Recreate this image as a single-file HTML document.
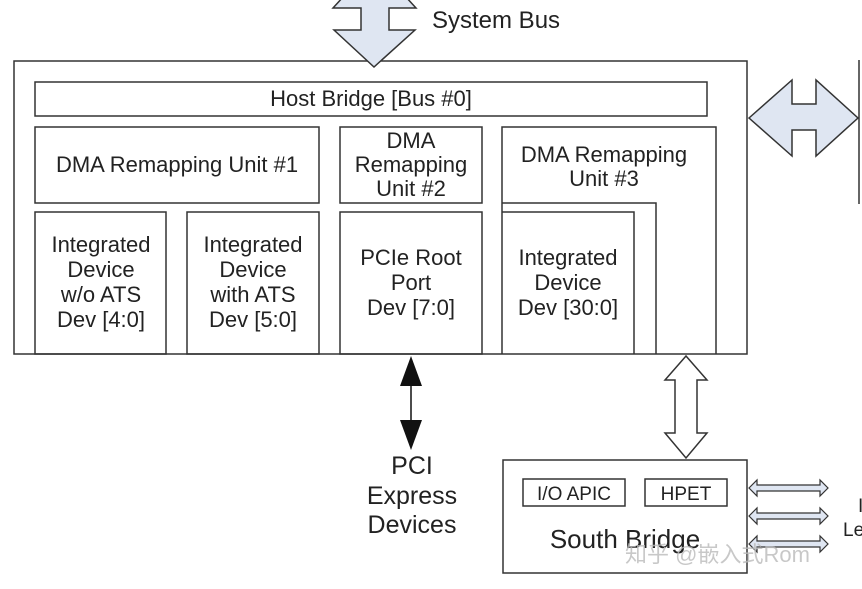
<!DOCTYPE html>
<html><head><meta charset="utf-8"><style>
html,body{margin:0;padding:0;background:#fff;}
svg{display:block;}
text{font-family:"Liberation Sans",Arial,sans-serif;fill:#222;}
</style></head><body>
<svg width="862" height="589" viewBox="0 0 862 589" xmlns="http://www.w3.org/2000/svg">
<g fill="none" stroke="#333" stroke-width="1.5">
<rect x="14" y="61" width="733" height="293" fill="#fff"/>
<rect x="35" y="82" width="672" height="34"/>
<rect x="35" y="127" width="284" height="76"/>
<rect x="340" y="127" width="142" height="76"/>
<polyline points="502,354 502,127 716,127 716,354"/>
<polyline points="502,203 656,203 656,354"/>
<rect x="35" y="212" width="131" height="142"/>
<rect x="187" y="212" width="132" height="142"/>
<rect x="340" y="212" width="142" height="142"/>
<polyline points="502,212 634,212 634,354"/>
<rect x="503" y="460" width="244" height="113"/>
<rect x="523" y="479" width="102" height="27"/>
<rect x="645" y="479" width="82" height="27"/>
<line x1="859" y1="60" x2="859" y2="204"/>
</g>
<polygon points="344,-4 333,8 361,8 361,30 334,30 374,67 415,30 389,30 389,8 416,8 405,-4" fill="#dfe6f2" stroke="#333" stroke-width="1.5"/>
<polygon points="749,118 792,80 792,104 816,104 816,80 858,118 816,156 816,130 792,130 792,156" fill="#dfe6f2" stroke="#333" stroke-width="1.5"/>
<polygon points="686,356 707,380 697,380 697,433 707,433 686,458 665,433 675,433 675,380 665,380" fill="#fff" stroke="#333" stroke-width="1.5"/>
<g fill="#dfe6f2" stroke="#333" stroke-width="1.2">
<polygon points="749,488 757,480 757,485 820,485 820,480 828,488 820,496 820,491 757,491 757,496"/>
<polygon points="749,516 757,508 757,513 820,513 820,508 828,516 820,524 820,519 757,519 757,524"/>
<polygon points="749,544 757,536 757,541 820,541 820,536 828,544 820,552 820,547 757,547 757,552"/>
</g>
<line x1="411" y1="375" x2="411" y2="425" stroke="#111" stroke-width="1.5"/>
<polygon points="411,356 400,386 422,386" fill="#111"/>
<polygon points="411,450 400,420 422,420" fill="#111"/>
<g font-size="22" text-anchor="middle">
<text x="432" y="28" font-size="24" text-anchor="start">System Bus</text>
<text x="371" y="106">Host Bridge [Bus #0]</text>
<text x="177" y="172">DMA Remapping Unit #1</text>
<text x="411" y="148">DMA</text>
<text x="411" y="172">Remapping</text>
<text x="411" y="196">Unit #2</text>
<text x="604" y="162">DMA Remapping</text>
<text x="604" y="186">Unit #3</text>
<text x="101" y="252">Integrated</text>
<text x="101" y="277">Device</text>
<text x="101" y="302">w/o ATS</text>
<text x="101" y="327">Dev [4:0]</text>
<text x="253" y="252">Integrated</text>
<text x="253" y="277">Device</text>
<text x="253" y="302">with ATS</text>
<text x="253" y="327">Dev [5:0]</text>
<text x="411" y="265">PCIe Root</text>
<text x="411" y="290">Port</text>
<text x="411" y="315">Dev [7:0]</text>
<text x="568" y="265">Integrated</text>
<text x="568" y="290">Device</text>
<text x="568" y="315">Dev [30:0]</text>
<text x="412" y="474" font-size="25">PCI</text>
<text x="412" y="504" font-size="25">Express</text>
<text x="412" y="533" font-size="25">Devices</text>
<text x="574" y="500" font-size="19">I/O APIC</text>
<text x="686" y="500" font-size="19">HPET</text>
<text x="625" y="548" font-size="26">South Bridge</text>
<text x="858" y="512" text-anchor="start" font-size="19">I</text>
<text x="843" y="536" text-anchor="start" font-size="19">Le</text>
</g>
<text x="625" y="562" font-size="22" style="fill:#bbb;font-family:'Liberation Sans','Noto Sans CJK SC',sans-serif" opacity="0.8">知乎 @嵌入式Rom</text>
</svg>
</body></html>
